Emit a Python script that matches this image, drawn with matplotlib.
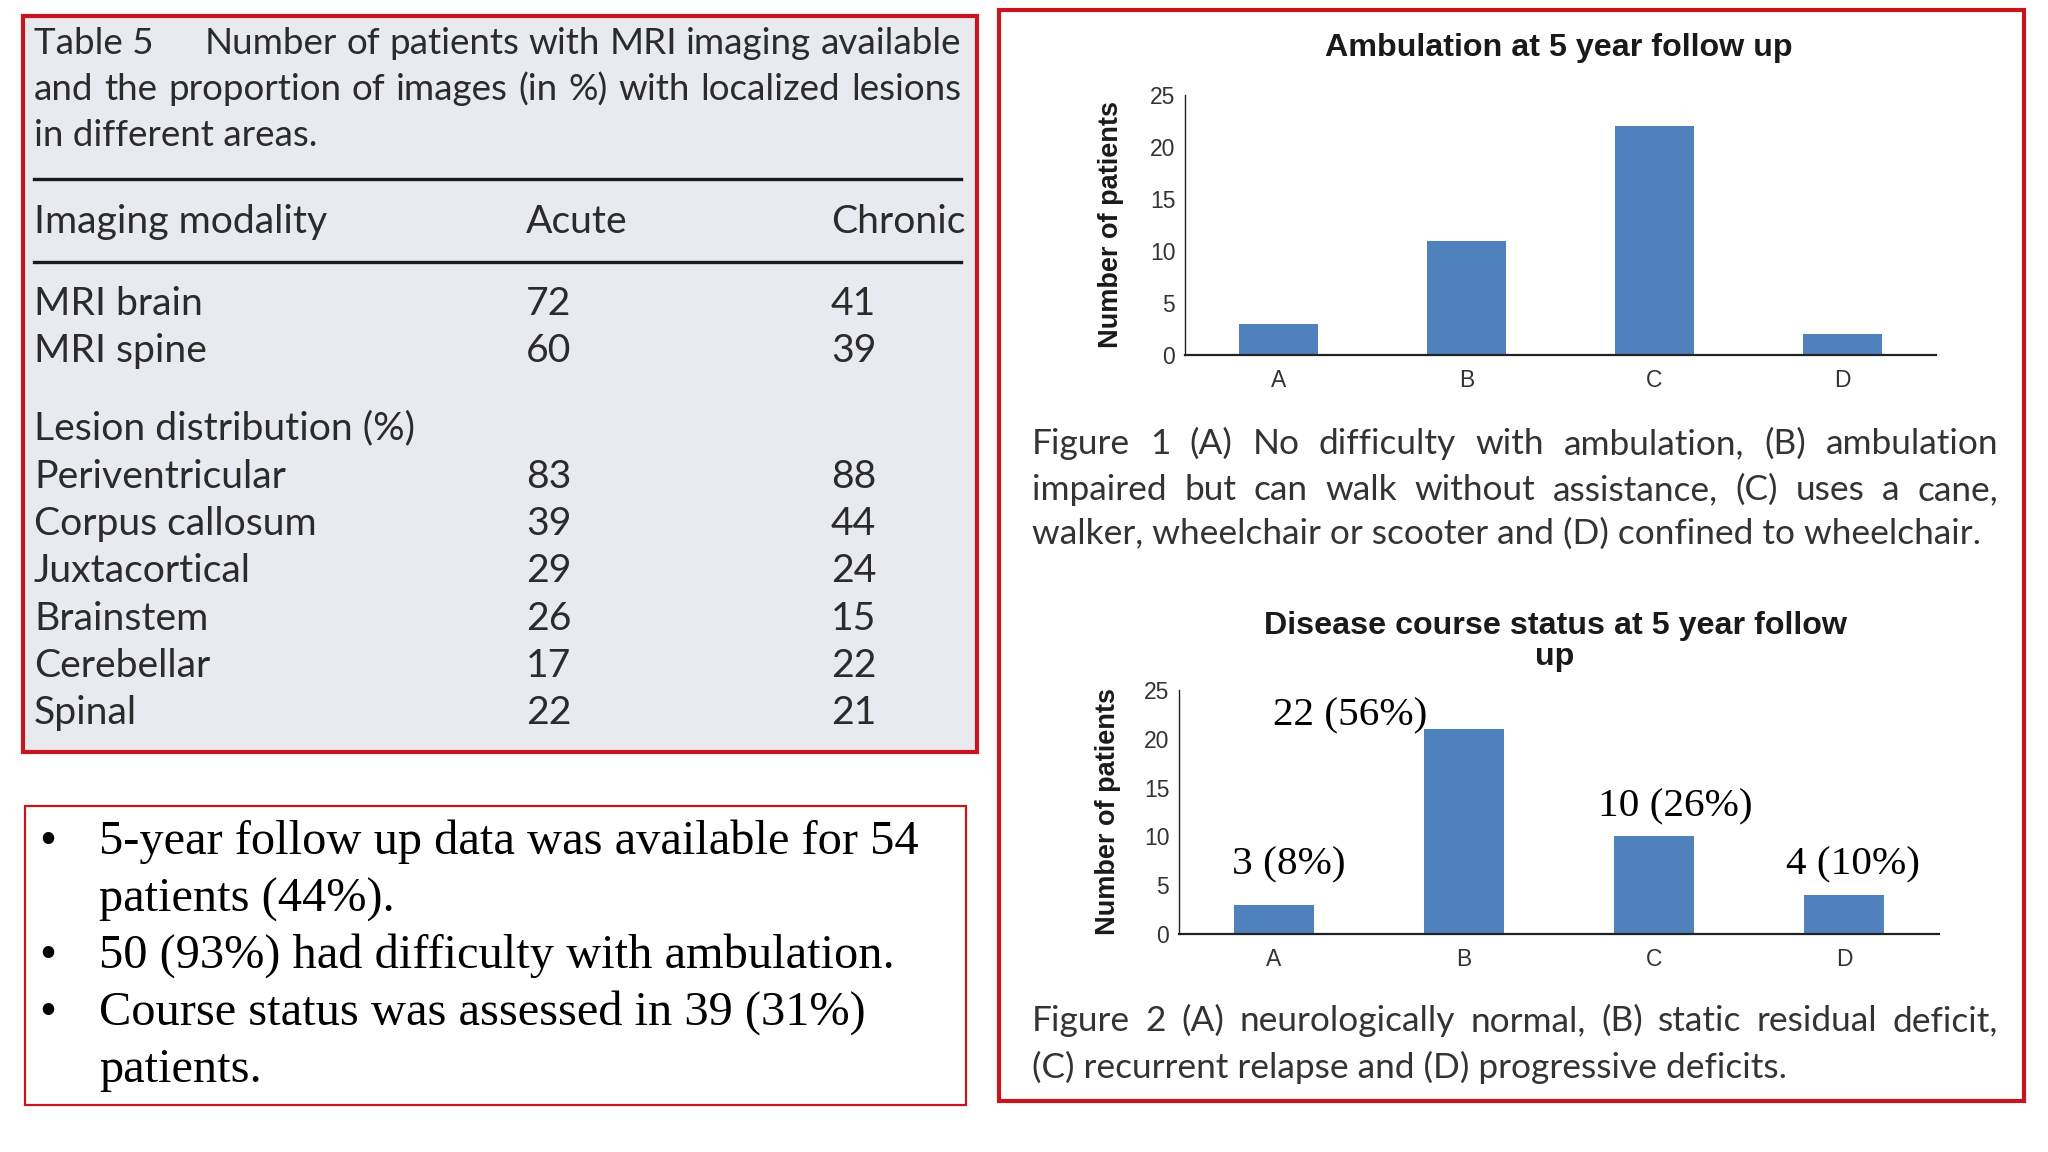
import matplotlib
matplotlib.use('Agg')
import matplotlib.pyplot as plt
from matplotlib.patches import Rectangle
from matplotlib.lines import Line2D

W, H = 2048, 1152

# ---- data ----
modality = ['MRI brain', 'MRI spine']
modality_acute = [72, 60]
modality_chronic = [41, 39]
sites = ['Periventricular', 'Corpus callosum', 'Juxtacortical', 'Brainstem', 'Cerebellar', 'Spinal']
sites_acute = [83, 39, 29, 26, 17, 22]
sites_chronic = [88, 44, 24, 15, 22, 21]

groups = ['A', 'B', 'C', 'D']
ambulation = [3, 11, 22, 2]
course = [3, 21, 10, 4]
course_labels = ['3 (8%)', '22 (56%)', '10 (26%)', '4 (10%)']
course_label_dx = [0.08, -0.6, 0.11, 0.05]
course_label_y = [7.1, 22.3, 13.0, 7.1]

bullets = [['5-year follow up data was available for 54', 'patients (44%).'],
           ['50 (93%) had difficulty with ambulation.'],
           ['Course status was assessed in 39 (31%)', 'patients.']]

RED = '#c8141e'
BLUE = '#4f81bd'
SANS = 'Lato'

fig = plt.figure(figsize=(W / 100, H / 100), dpi=100)
fig.patch.set_facecolor('white')
renderer = fig.canvas.get_renderer()


def fx(x):
    return x / W


def fy(y):
    return 1 - y / H


def text(x, y, s, **kw):
    kw.setdefault('va', 'center')
    return fig.text(fx(x), fy(y), s, **kw)


def width_of(s, size, **kw):
    t = fig.text(0, 0, s, fontsize=size, **kw)
    w = t.get_window_extent(renderer).width
    t.remove()
    return w


def fit_size(s, width, **kw):
    return 20 * width / width_of(s, 20, **kw)


def justify(x0, x1, y, s, size, **kw):
    words = s.split()
    widths = [width_of(w, size, **kw) for w in words]
    gap = (x1 - x0 - sum(widths)) / (len(words) - 1)
    x = x0
    for w, wd in zip(words, widths):
        text(x, y, w, fontsize=size, **kw)
        x += wd + gap


def box(x0, y0, x1, y1, lw, fc):
    r = Rectangle((fx(x0), fy(y1)), fx(x1 - x0), (y1 - y0) / H, transform=fig.transFigure,
                  facecolor=fc, edgecolor=RED, linewidth=lw, zorder=-5)
    fig.add_artist(r)


# ---- boxes ----
box(23, 16, 977, 752, 3.0, '#e8eaef')
box(25, 806, 966, 1105, 1.6, 'white')
box(999, 10, 2024, 1101, 3.0, 'white')

# ---- table ----
tcol = '#2b2b2b'
tsize = fit_size('Lesion distribution (%)', 381, family=SANS)
hsize = tsize * 0.94
tk = dict(family=SANS, color=tcol)
text(34, 43, 'Table 5', fontsize=hsize, **tk)
justify(205, 961, 43, 'Number of patients with MRI imaging available', hsize, **tk)
justify(34, 961, 90, 'and the proportion of images (in %) with localized lesions', hsize, **tk)
text(34, 136, 'in different areas.', fontsize=hsize, **tk)

for yy in [179, 262]:
    fig.add_artist(Line2D([fx(34), fx(961)], [fy(yy), fy(yy)], transform=fig.transFigure,
                          color='#1a1a1a', linewidth=2.4))

text(34, 222, 'Imaging modality', fontsize=tsize, **tk)
text(526, 222, 'Acute', fontsize=tsize, **tk)
text(831, 222, 'Chronic', fontsize=tsize, **tk)

rows_y = [304, 351]
for name, a, c, yy in zip(modality, modality_acute, modality_chronic, rows_y):
    text(34, yy, name, fontsize=tsize, **tk)
    text(526, yy, str(a), fontsize=tsize, **tk)
    text(831, yy, str(c), fontsize=tsize, **tk)

text(34, 428, 'Lesion distribution (%)', fontsize=tsize, **tk)
for i, (name, a, c) in enumerate(zip(sites, sites_acute, sites_chronic)):
    yy = 477 + i * 47.2
    text(34, yy, name, fontsize=tsize, **tk)
    text(526, yy, str(a), fontsize=tsize, **tk)
    text(831, yy, str(c), fontsize=tsize, **tk)

# ---- bullet box ----
bsize = fit_size('50 (93%) had difficulty with ambulation.', 796, family='Liberation Serif')
line_y = [842, 900, 956, 1013, 1070]
k = 0
for lines in bullets:
    text(48, line_y[k], '\u2022', fontsize=bsize, family='Liberation Serif', color='black', ha='center')
    for ln in lines:
        text(99, line_y[k], ln, fontsize=bsize, family='Liberation Serif', color='black')
        k += 1


# ---- bar charts ----
def bar_chart(x0, x1, ytop, ybot, values, lab_x):
    ax = fig.add_axes([fx(x0), fy(ybot), fx(x1 - x0), (ybot - ytop) / H])
    ax.set_facecolor('none')
    ax.bar(range(len(values)), values, width=0.42, color=BLUE)
    ax.set_xlim(-0.5, 3.5)
    ax.set_ylim(0, 25)
    ax.set_yticks(range(0, 26, 5))
    ax.set_xticks(range(len(groups)))
    ax.set_xticklabels(groups)
    for s in ['top', 'right']:
        ax.spines[s].set_visible(False)
    ax.spines['left'].set_linewidth(1.0)
    ax.spines['bottom'].set_linewidth(1.6)
    ax.spines['left'].set_color('#222222')
    ax.spines['bottom'].set_color('#222222')
    ax.tick_params(length=0, labelsize=16.5, labelcolor='#333333')
    ax.tick_params(axis='y', pad=7)
    ax.tick_params(axis='x', pad=10)
    for lbl in ax.get_xticklabels() + ax.get_yticklabels():
        lbl.set_family('Liberation Sans')
    ax.set_ylabel('Number of patients', fontsize=19.5, fontweight='bold', family='Liberation Sans',
                  color='#1a1a1a')
    ax.yaxis.set_label_coords(lab_x, 0.5)
    return ax


csize = fit_size('Ambulation at 5 year follow up', 468, family='Liberation Sans', weight='bold')
ck = dict(family='Liberation Sans', weight='bold', color='#1a1a1a', ha='center')

ax1 = bar_chart(1185, 1936, 95, 355, ambulation, (1124 - 1185) / 751)
text(1559, 48, 'Ambulation at 5 year follow up', fontsize=csize, **ck)

ax2 = bar_chart(1179, 1939, 690, 934, course, (1121 - 1179) / 760)
text(1555, 626, 'Disease course status at 5 year follow', fontsize=csize, **ck)
text(1555, 657, 'up', fontsize=csize, **ck)

lsize = fit_size('22 (56%)', 155, family='Liberation Serif')
for i, (lab, dx, yy) in enumerate(zip(course_labels, course_label_dx, course_label_y)):
    ax2.text(i + dx, yy, lab, fontsize=lsize, family='Liberation Serif', color='black',
             ha='center', va='center')

# ---- captions ----
capsize = fit_size('walker, wheelchair or scooter and (D) confined to wheelchair.', 950, family=SANS)
ck2 = dict(family=SANS, color='#333333')
justify(1032, 1998, 444, 'Figure 1   (A) No difficulty with ambulation, (B) ambulation', capsize, **ck2)
justify(1032, 1998, 490, 'impaired but can walk without assistance, (C) uses a cane,', capsize, **ck2)
text(1032, 534, 'walker, wheelchair or scooter and (D) confined to wheelchair.', fontsize=capsize, **ck2)
justify(1032, 1998, 1021, 'Figure 2   (A) neurologically normal, (B) static residual deficit,', capsize, **ck2)
text(1032, 1067, '(C) recurrent relapse and (D) progressive deficits.', fontsize=capsize, **ck2)

fig.savefig('out.png', dpi=100)
